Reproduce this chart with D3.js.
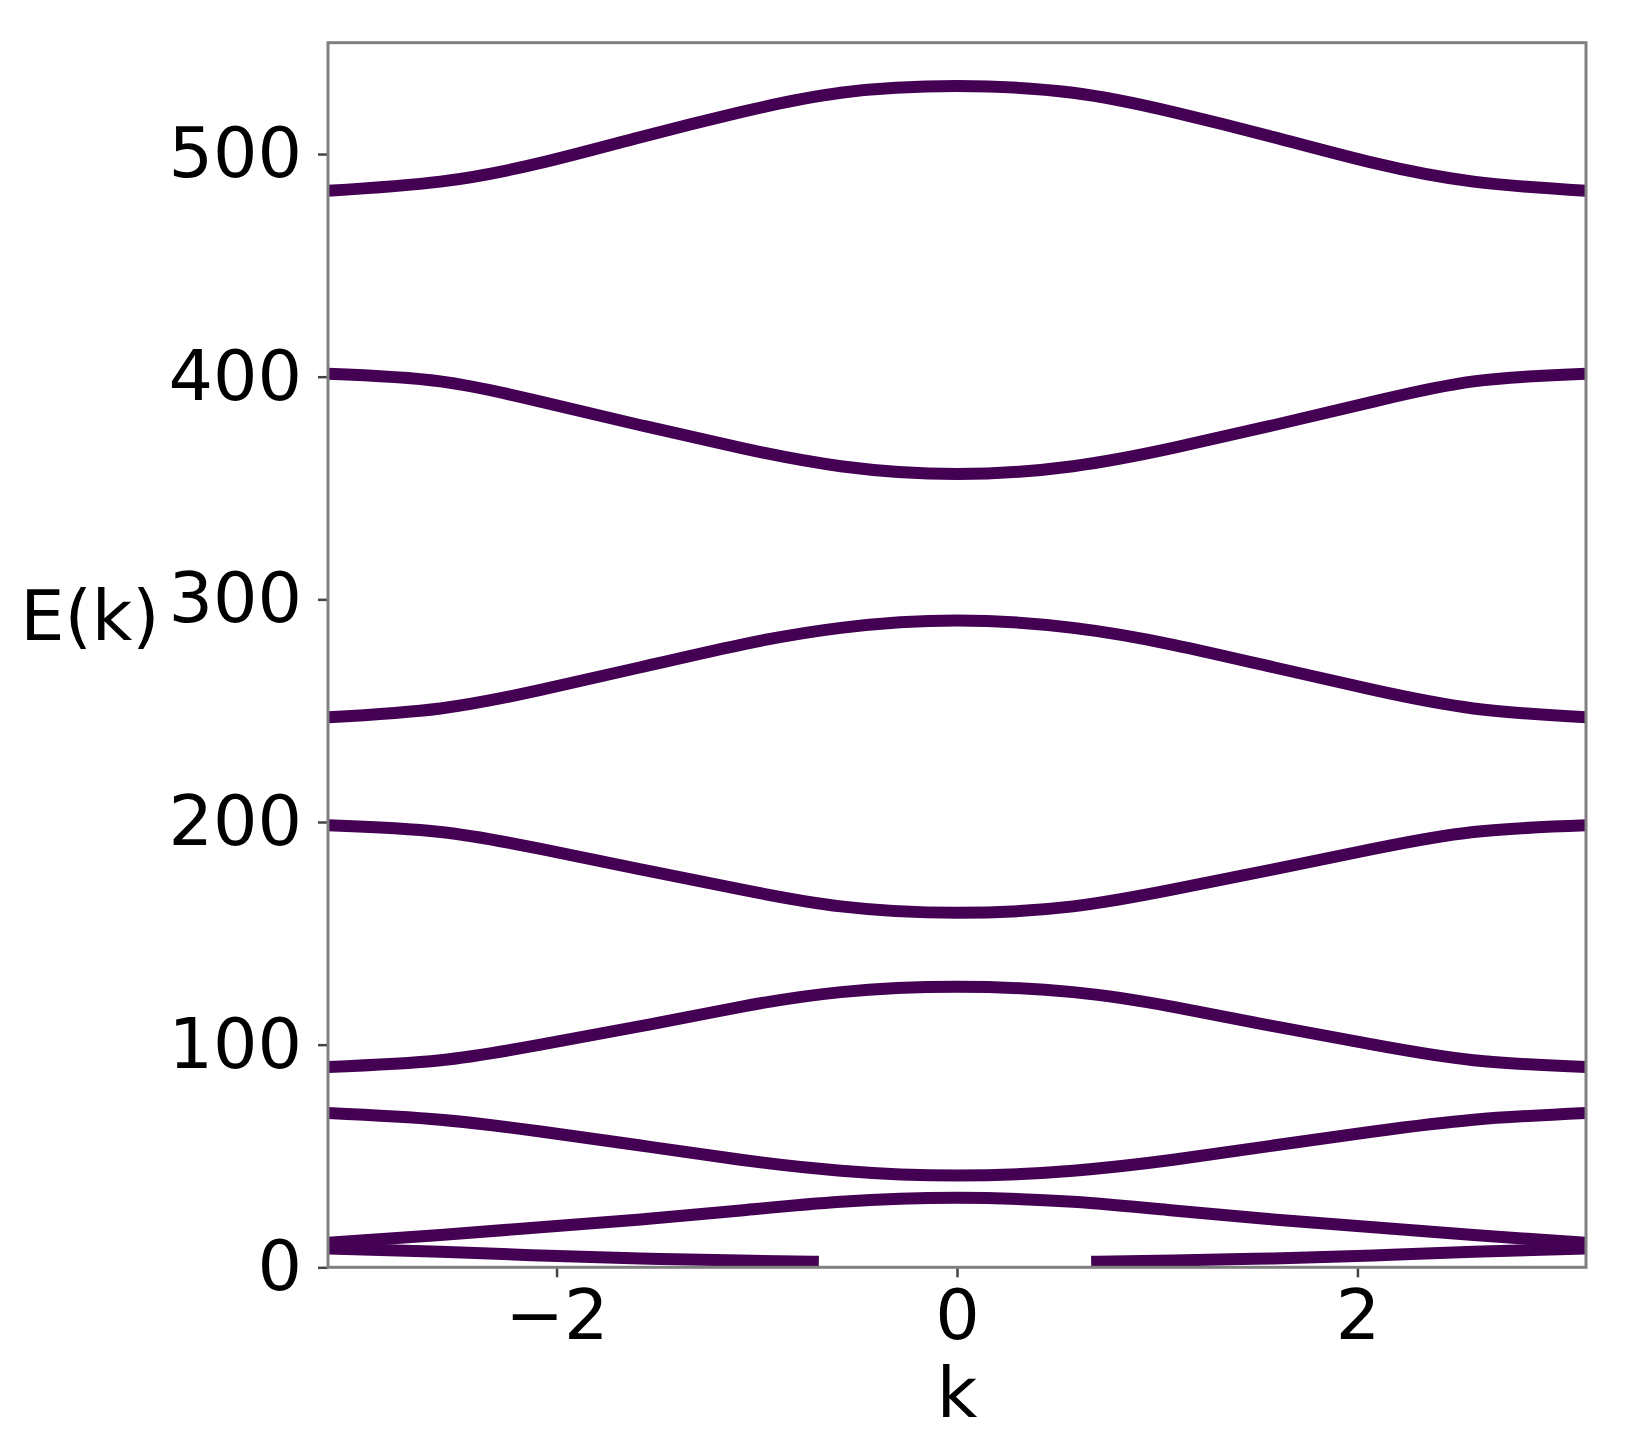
<!DOCTYPE html>
<html>
<head>
<meta charset="utf-8">
<script src="https://cdn.jsdelivr.net/npm/d3@7"></script>
<style>
    body { margin: 0; background: #fff; }
    text { font-family: "DejaVu Sans", sans-serif; fill: #000; }
</style>
</head>
<body>
<svg id="band_chart"></svg>
<script>
const kTicks = [-2, 0, 2];
const eTicks = [0, 100, 200, 300, 400, 500];

// shared k grid for the upper bands
const kGrid = [-3.1416, -2.58, -2.08, -1.58, -1.08, -0.58, 0, 0.58, 1.08, 1.58, 2.08, 2.58, 3.1416];
const band2 = [11.0, 14.5, 18.0, 21.5, 25.5, 29.4, 31.2, 29.4, 25.5, 21.5, 18.0, 14.5, 11.0];
const band3 = [69.3, 66.3, 61.0, 54.7, 48.3, 43.4, 41.2, 43.4, 48.3, 54.7, 61.0, 66.3, 69.3];
const band4 = [90.0, 93.0, 100.0, 108.3, 117.0, 123.6, 126.0, 123.6, 117.0, 108.3, 100.0, 93.0, 90.0];
const band5 = [198.5, 195.5, 187.9, 178.7, 169.7, 162.1, 159.2, 162.1, 169.7, 178.7, 187.9, 195.5, 198.5];
const band6 = [247.0, 251.0, 259.3, 269.5, 279.6, 287.2, 290.5, 287.2, 279.6, 269.5, 259.3, 251.0, 247.0];
const band7 = [401.3, 397.9, 388.8, 378.2, 368.0, 359.8, 356.3, 359.8, 368.0, 378.2, 388.8, 397.9, 401.3];
const band8 = [483.5, 487.6, 496.0, 507.6, 518.8, 527.5, 530.5, 527.5, 518.8, 507.6, 496.0, 487.6, 483.5];

// lowest band has a gap around k = 0
const kLow = [-3.1416, -2.58, -2.08, -1.58, -1.08, -0.72, 0, 0.70, 1.08, 1.58, 2.08, 2.58, 3.1416];
const band1 = [8.5, 7.0, 5.3, 4.0, 3.0, 2.5, null, 2.5, 3.0, 4.0, 5.3, 7.0, 8.5];

const bands = [
    { k: kLow, e: band1 },
    { k: kGrid, e: band2 },
    { k: kGrid, e: band3 },
    { k: kGrid, e: band4 },
    { k: kGrid, e: band5 },
    { k: kGrid, e: band6 },
    { k: kGrid, e: band7 },
    { k: kGrid, e: band8 }
];

function drawBandChart() {
    const width = 1626,
        height = 1446;
    const margin = { top: 42.7, right: 40, bottom: 178.7, left: 328 };

    const svg = d3.select("#band_chart")
        .attr("width", width)
        .attr("height", height);

    const x = d3.scaleLinear()
        .domain([-Math.PI, Math.PI])
        .range([margin.left, width - margin.right]);
    const y = d3.scaleLinear()
        .domain([0, 550])
        .range([height - margin.bottom, margin.top]);

    svg.append("defs").append("clipPath")
        .attr("id", "plot_clip")
        .append("rect")
        .attr("x", x.range()[0])
        .attr("y", y.range()[1])
        .attr("width", x.range()[1] - x.range()[0])
        .attr("height", y.range()[0] - y.range()[1]);

    const line = d3.line()
        .defined(d => d[1] !== null)
        .x(d => x(d[0]))
        .y(d => y(d[1]))
        .curve(d3.curveNatural);

    svg.append("g")
        .attr("clip-path", "url(#plot_clip)")
        .selectAll("path")
        .data(bands)
        .join("path")
        .attr("d", b => line(b.k.map((k, i) => [k, b.e[i]])))
        .attr("fill", "none")
        .attr("stroke", "#440154")
        .attr("stroke-width", 12)
        .attr("stroke-linecap", "square");

    const xAxis = svg.append("g")
        .attr("transform", `translate(0,${y(0)})`)
        .call(d3.axisBottom(x).tickValues(kTicks).tickFormat(d3.format("d")).tickSize(10).tickPadding(12));
    const yAxis = svg.append("g")
        .attr("transform", `translate(${x(-Math.PI)},0)`)
        .call(d3.axisLeft(y).tickValues(eTicks).tickSize(10).tickPadding(16));

    [xAxis, yAxis].forEach(a => {
        a.select(".domain").remove();
        a.selectAll(".tick line").attr("stroke", "#444").attr("stroke-width", 2.5);
        a.selectAll(".tick text").style("font-size", "70px").attr("fill", "#000");
    });

    svg.append("rect")
        .attr("x", x.range()[0])
        .attr("y", y.range()[1])
        .attr("width", x.range()[1] - x.range()[0])
        .attr("height", y.range()[0] - y.range()[1])
        .attr("fill", "none")
        .attr("stroke", "#808080")
        .attr("stroke-width", 3);

    svg.append("text")
        .attr("x", x(0))
        .attr("y", 1417)
        .style("font-size", "70px")
        .style("text-anchor", "middle")
        .text("k");

    svg.append("text")
        .attr("x", 90)
        .attr("y", 640)
        .style("font-size", "70px")
        .style("text-anchor", "middle")
        .text("E(k)");
}

drawBandChart();
</script>
</body>
</html>
